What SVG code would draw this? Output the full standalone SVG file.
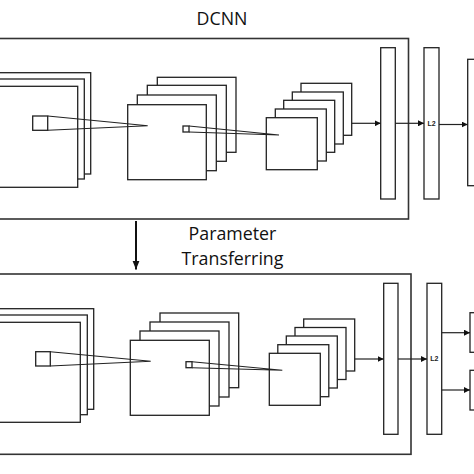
<svg xmlns="http://www.w3.org/2000/svg" width="474" height="474" viewBox="0 0 474 474">
<style>
.r{fill:#fff;stroke:#222;stroke-width:1.3}
.box{fill:none;stroke:#333;stroke-width:1.6}
.l{fill:none;stroke:#222;stroke-width:1.2}
.c{fill:none;stroke:#222;stroke-width:1.1}
.t{font-family:"Open Sans","Liberation Sans",sans-serif;font-size:17.8px;fill:#111;text-anchor:middle}
.s{font-family:"Liberation Sans",sans-serif;font-size:7px;font-weight:bold;fill:#222;text-anchor:middle}
</style>
<defs>
<marker id="a" viewBox="0 0 10 10" refX="10" refY="5" markerWidth="6" markerHeight="6" markerUnits="userSpaceOnUse" orient="auto"><path d="M0,0L10,5L0,10Z" fill="#111"/></marker>
<marker id="b" viewBox="0 0 10 10" refX="10" refY="5" markerWidth="9" markerHeight="9" markerUnits="userSpaceOnUse" orient="auto"><path d="M0,1L10,5L0,9Z" fill="#111"/></marker>
</defs>
<rect width="474" height="474" fill="#fff"/>
<text class="t" x="222" y="25">DCNN</text>
<text class="t" x="232.5" y="240">Parameter</text>
<text class="t" x="232.5" y="265">Transferring</text>

<g id="top-panel"><rect class="box" x="-5" y="38.5" width="413.5" height="180.5"/></g>
<g id="top-input">
<rect class="r" x="-10" y="72.7" width="100.7" height="101.3"/>
<rect class="r" x="-10" y="79" width="94.3" height="100"/>
<rect class="r" x="-10" y="86.3" width="87.7" height="101"/>
<rect class="r" x="32.7" y="116" width="15" height="14.3"/>
</g>
<g id="top-conv1">
<rect class="r" x="157.3" y="77.3" width="78.7" height="75"/>
<rect class="r" x="147.3" y="85.3" width="79" height="76"/>
<rect class="r" x="137.3" y="95" width="79" height="75.7"/>
<rect class="r" x="127.7" y="104.7" width="78.6" height="75"/>
<rect class="r" x="183" y="126" width="6" height="6"/>
</g>
<g id="top-conv2">
<rect class="r" x="301" y="83.3" width="50.7" height="52"/>
<rect class="r" x="292.3" y="92" width="51" height="52"/>
<rect class="r" x="283.7" y="100.3" width="51" height="52"/>
<rect class="r" x="275.3" y="109" width="51" height="52"/>
<rect class="r" x="266.3" y="117.7" width="51" height="52"/>
</g>
<g id="top-fc"><rect class="r" x="380.7" y="47.7" width="14.6" height="151.3"/></g>
<g id="top-l2"><rect class="r" x="424" y="47.7" width="15" height="151.3"/><text class="s" x="431.5" y="125.6">L2</text></g>
<g id="top-out"><rect class="r" x="467.7" y="59.3" width="20" height="126.4"/></g>

<g id="bottom-panel"><rect class="box" x="-5" y="274" width="416" height="180.3"/></g>
<g id="bottom-input">
<rect class="r" x="-10" y="308.7" width="103.7" height="100.6"/>
<rect class="r" x="-10" y="315" width="97.3" height="99.7"/>
<rect class="r" x="-10" y="322.3" width="90.3" height="100"/>
<rect class="r" x="35.7" y="351.7" width="14.6" height="14.3"/>
</g>
<g id="bottom-conv1">
<rect class="r" x="160" y="313" width="78.7" height="74.7"/>
<rect class="r" x="150" y="322" width="79" height="75"/>
<rect class="r" x="140" y="331" width="79" height="75"/>
<rect class="r" x="130.3" y="340.3" width="79" height="75"/>
<rect class="r" x="186" y="361.7" width="6" height="6"/>
</g>
<g id="bottom-conv2">
<rect class="r" x="303.7" y="319" width="51" height="52"/>
<rect class="r" x="295" y="327.5" width="51" height="52"/>
<rect class="r" x="286.3" y="336" width="51" height="52"/>
<rect class="r" x="277.8" y="344.7" width="51" height="52"/>
<rect class="r" x="269.3" y="353.3" width="51" height="52"/>
</g>
<g id="bottom-fc"><rect class="r" x="383.7" y="283.3" width="14.3" height="151"/></g>
<g id="bottom-l2"><rect class="r" x="427" y="283.3" width="14.7" height="151"/><text class="s" x="434.3" y="361.4">L2</text></g>
<g id="bottom-out1"><rect class="r" x="470" y="312.7" width="20" height="39.6"/></g>
<g id="bottom-out2"><rect class="r" x="470" y="370.3" width="20" height="39.7"/></g>

<g id="connectors">
<path class="c" d="M47.7,116L147.7,125.7L47.7,130.3"/>
<path class="c" d="M189,126L279,135L189,132"/>
<path class="l" d="M351.7,123.3H380.7" marker-end="url(#a)"/>
<path class="l" d="M395.3,123.3H424" marker-end="url(#a)"/>
<path class="l" d="M439,124.5H467.7" marker-end="url(#a)"/>
<path class="c" d="M50.3,351.7L150.7,361.3L50.3,366"/>
<path class="c" d="M192,361.7L282.3,370.3L192,367.7"/>
<path class="l" d="M354.7,359H383.7" marker-end="url(#a)"/>
<path class="l" d="M398,359H427" marker-end="url(#a)"/>
<path class="l" d="M441.7,332.7H470" marker-end="url(#a)"/>
<path class="l" d="M441.7,390H470" marker-end="url(#a)"/>
<path fill="none" stroke="#111" stroke-width="2" d="M136,221V269.5" marker-end="url(#b)"/>
</g>
</svg>
